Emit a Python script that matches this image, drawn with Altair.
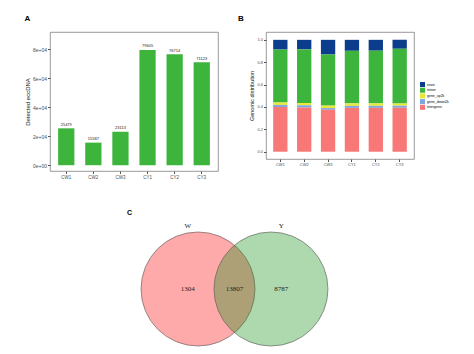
import altair as alt
import pandas as pd

FONT = "Liberation Sans"
SERIF = "Liberation Serif"

# ---- Panel A data ----
samples = ["CW1", "CW2", "CW3", "CY1", "CY2", "CY3"]
ecc_counts = [25479, 15587, 23113, 79605, 76714, 71123]
a_ticks = [0, 20000, 40000, 60000, 80000]

# ---- Panel B data ----
regions = ["exon", "intron", "gene_up2k", "gene_down2k", "intergenic"]
region_colors = ["#0b3d8c", "#3db53d", "#e8e83a", "#7da7e0", "#f87878"]
exon_frac = [0.087, 0.085, 0.131, 0.098, 0.097, 0.080]
intron_frac = [0.473, 0.480, 0.457, 0.470, 0.471, 0.490]
up2k_frac = [0.022, 0.020, 0.022, 0.022, 0.022, 0.020]
down2k_frac = [0.018, 0.020, 0.015, 0.018, 0.018, 0.018]
intergenic_frac = [0.400, 0.395, 0.375, 0.392, 0.392, 0.392]
b_ticks = [0.0, 0.2, 0.4, 0.6, 0.8, 1.0]

# ---- Panel C data ----
venn_sets = ["W", "Y"]
venn_fill = ["#ffaaaa", "#118c11"]
venn_fill_opacity = [1.0, 0.34]
venn_counts = [1304, 13807, 8787]   # W only, both, Y only
center_sep = 1.28                   # distance between centres, in radii

# ---------------- Panel A ----------------
dfA = pd.DataFrame({"sample": samples, "count": ecc_counts})
xA = alt.X("sample:N", sort=samples,
           scale=alt.Scale(paddingInner=0.4, paddingOuter=0.3),
           axis=alt.Axis(title=None, labelAngle=0, labelFontSize=4.5))
yA = alt.Y("count:Q",
           scale=alt.Scale(domain=[-4000, 92000], nice=False, zero=False),
           axis=alt.Axis(values=a_ticks, title="Detected eccDNA",
                         labelExpr="datum.value == 0 ? '0e+00' : format(datum.value / 10000, 'd') + 'e+04'",
                         labelFontSize=5, titleFontSize=6, titlePadding=2))
barsA = alt.Chart(dfA).mark_bar(color="#3db53d").encode(x=xA, y=yA)
textA = alt.Chart(dfA).mark_text(baseline="bottom", dy=-1.5, fontSize=4, font=FONT,
                                 color="#222").encode(x=xA, y=yA, text="count:Q")
chartA = alt.layer(barsA, textA).properties(
    width=168, height=139,
    title=alt.TitleParams("A", anchor="start", fontSize=8, fontWeight="bold",
                          font=FONT, offset=9, frame="bounds"))

# ---------------- Panel B ----------------
fracs = [exon_frac, intron_frac, up2k_frac, down2k_frac, intergenic_frac]
rowsB = []
for i, s in enumerate(samples):
    for j, r in enumerate(regions):
        rowsB.append({"sample": s, "region": r, "frac": fracs[j][i], "rank": j})
dfB = pd.DataFrame(rowsB)
chartB = alt.Chart(dfB).mark_bar().encode(
    x=alt.X("sample:N", sort=samples,
            scale=alt.Scale(paddingInner=0.4, paddingOuter=0.3),
            axis=alt.Axis(title=None, labelAngle=0, labelFontSize=4)),
    y=alt.Y("frac:Q", stack="zero",
            scale=alt.Scale(domain=[-0.065, 1.07], nice=False, zero=False),
            axis=alt.Axis(values=b_ticks, format=".1f", title="Genomic distribution",
                          labelFontSize=4, titleFontSize=5.5, titlePadding=2)),
    color=alt.Color("region:N", scale=alt.Scale(domain=regions, range=region_colors),
                    legend=alt.Legend(title=None, orient="none", legendX=154, legendY=50,
                                      symbolType="square", symbolSize=25,
                                      symbolStrokeWidth=0, labelFontSize=3.5,
                                      labelFont=FONT, rowPadding=0.7, labelOffset=2)),
    order=alt.Order("rank:Q", sort="descending"),
).properties(
    width=148, height=127,
    title=alt.TitleParams("B", anchor="start", fontSize=8, fontWeight="bold",
                          font=FONT, offset=9, frame="bounds", dx=-12))

# ---------------- Panel C ----------------
half = center_sep / 2
dfC = pd.DataFrame({"set": venn_sets, "cx": [-half, half], "cy": [0.0, 0.0]})
lens_edge = 1 + half
dfNum = pd.DataFrame({
    "label": [str(v) for v in venn_counts],
    "x": [-lens_edge / 2, 0.0, lens_edge / 2],
    "y": [0.0, 0.0, 0.0]})
dfSet = pd.DataFrame({"label": venn_sets, "x": [-lens_edge / 2, lens_edge / 2],
                      "y": [1.0, 1.0]})

C_W, C_H = 369, 130
unit = 57.0
xsc = alt.Scale(domain=[-C_W / 2 / unit, C_W / 2 / unit], nice=False, zero=False)
ysc = alt.Scale(domain=[-61 / unit, 69 / unit], nice=False, zero=False)

circles = alt.Chart(dfC).mark_point(shape="circle", filled=True, size=(2 * unit) ** 2,
                                    stroke="#555555", strokeWidth=0.6,
                                    strokeOpacity=1, opacity=1).encode(
    x=alt.X("cx:Q", scale=xsc, axis=None),
    y=alt.Y("cy:Q", scale=ysc, axis=None),
    fill=alt.Fill("set:N", scale=alt.Scale(domain=venn_sets, range=venn_fill), legend=None),
    fillOpacity=alt.FillOpacity("set:N", scale=alt.Scale(domain=venn_sets, range=venn_fill_opacity),
                                legend=None),
)
nums = alt.Chart(dfNum).mark_text(font=SERIF, fontSize=7, color="#222").encode(
    x=alt.X("x:Q", scale=xsc, axis=None), y=alt.Y("y:Q", scale=ysc, axis=None), text="label:N")
setlab = alt.Chart(dfSet).mark_text(font=SERIF, fontSize=7, color="#222", baseline="bottom",
                                    dy=-3).encode(
    x=alt.X("x:Q", scale=xsc, axis=None), y=alt.Y("y:Q", scale=ysc, axis=None), text="label:N")
chartC = alt.layer(circles, nums, setlab).properties(
    width=C_W, height=C_H,
    view=alt.ViewBackground(stroke="transparent"),
    title=alt.TitleParams("C", anchor="start", fontSize=7, fontWeight="bold",
                          font=FONT, offset=4, frame="group", dx=77))

top = alt.hconcat(chartA, chartB, spacing=18).resolve_scale(color="independent").resolve_legend(color="independent")
chart = alt.vconcat(top, chartC, spacing=28).resolve_scale(
    color="independent", fill="independent", fillOpacity="independent"
).resolve_legend(color="independent").properties(
    padding={"left": 24, "top": 14, "right": 5, "bottom": 0}
).configure_view(stroke="#808080", strokeWidth=0.8).configure_axis(
    labelFont=FONT, titleFont=FONT, labelColor="#4d4d4d", titleColor="#111",
    titleFontWeight="normal", tickColor="#555", tickSize=2.5, labelPadding=1,
    domain=False, grid=False)

chart.save("out.html", embed_options={"renderer": "svg", "actions": False})
